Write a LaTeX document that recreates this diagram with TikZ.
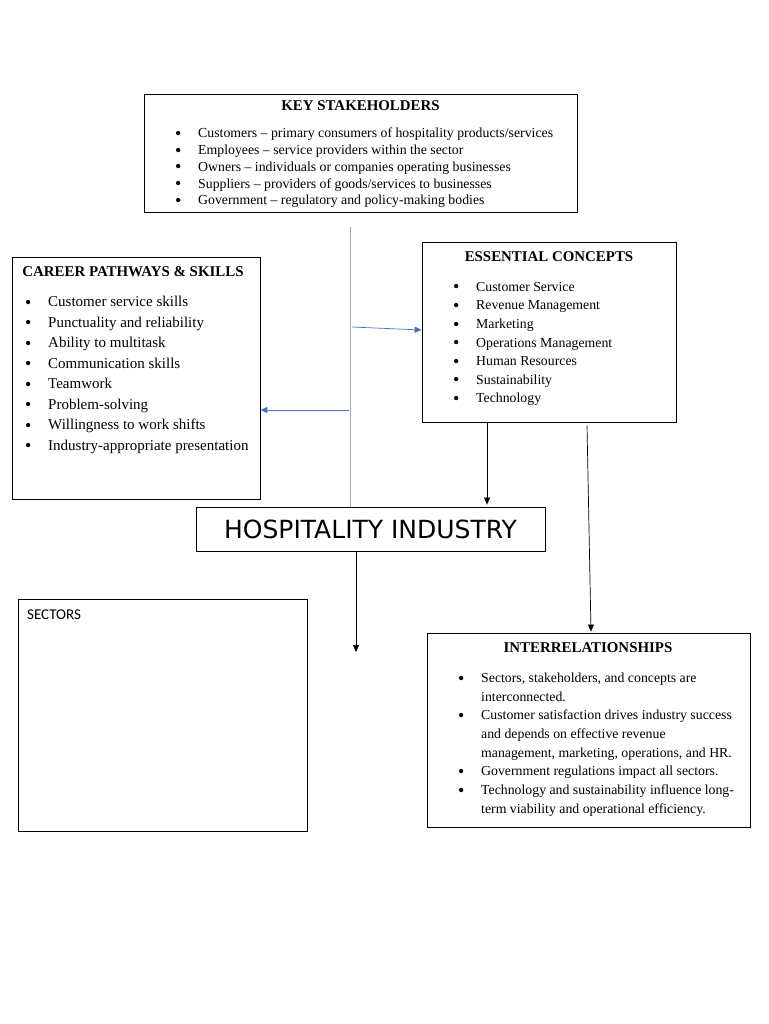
\documentclass[tikz,border=0pt]{standalone}
\usepackage{fontspec}
\setmainfont{Liberation Serif}
\newfontfamily\hospfont{DejaVu Sans}
\newfontfamily\sectfont{Carlito}
\usetikzlibrary{arrows.meta}
\definecolor{linkblue}{RGB}{68,114,196}
\newcommand{\bul}{\raisebox{-1.6pt}{\fontsize{18}{18}\selectfont\textbullet}}
\newcommand{\itemlist}[1]{\begin{tabular}[t]{@{}p{23pt}@{}l@{}}#1\end{tabular}}

\begin{document}
\begin{tikzpicture}[
        x=1pt, y=-1pt,
        box-node/.style={draw, line width=0.8pt, inner sep=0pt},
        head-node/.style={anchor=base, inner sep=0pt, font=\fontsize{14.9}{17}\selectfont\bfseries},
        list-node/.style={anchor=base west, inner sep=0pt},
        black-arrow/.style={line width=0.7pt, -{Triangle[length=7pt,width=6pt]}},
        blue-arrow/.style={line width=0.7pt, draw=linkblue, -{Triangle[length=7pt,width=6pt]}},
        trunk-line/.style={line width=0.8pt, draw=gray!70}
    ]
        \useasboundingbox (0,0) rectangle (768,1024);

        % boxes
        \node[box-node, minimum width=433pt, minimum height=118pt] (stake) at (360.5,153) {};
        \node[box-node, minimum width=248pt, minimum height=242pt] (career) at (136,378) {};
        \node[box-node, minimum width=254pt, minimum height=180pt] (concepts) at (549,332) {};
        \node[box-node, minimum width=349pt, minimum height=44pt, font=\hospfont\fontsize{25}{30}\selectfont] (hosp) at (370.5,529) {HOSPITALITY INDUSTRY};
        \node[box-node, minimum width=289pt, minimum height=232pt] (sectors) at (162.5,715) {};
        \node[box-node, minimum width=323pt, minimum height=194pt] (inter) at (588.5,730) {};

        % headings
        \node[head-node] (stake-head) at (360.5,111) {KEY STAKEHOLDERS};
        \node[head-node] (career-head) at (133,276) {CAREER PATHWAYS \& SKILLS};
        \node[head-node] (concepts-head) at (549,261) {ESSENTIAL CONCEPTS};
        \node[head-node] (inter-head) at (588,652) {INTERRELATIONSHIPS};
        \node[anchor=base west, inner sep=0pt, font=\sectfont\fontsize{15}{18}\selectfont] (sectors-head) at (27,619) {SECTORS};

        % lists
        \node[list-node, font=\fontsize{13.8}{16.7}\selectfont] (stake-list) at (175,138) {\itemlist{
            \bul & Customers – primary consumers of hospitality products/services\\
            \bul & Employees – service providers within the sector\\
            \bul & Owners – individuals or companies operating businesses\\
            \bul & Suppliers – providers of goods/services to businesses\\
            \bul & Government – regulatory and policy-making bodies}};
        \node[list-node, font=\fontsize{15}{20.5}\selectfont] (career-list) at (25,306.7) {\itemlist{
            \bul & Customer service skills\\
            \bul & Punctuality and reliability\\
            \bul & Ability to multitask\\
            \bul & Communication skills\\
            \bul & Teamwork\\
            \bul & Problem-solving\\
            \bul & Willingness to work shifts\\
            \bul & Industry-appropriate presentation}};
        \node[list-node, font=\fontsize{13.8}{18.6}\selectfont] (concepts-list) at (453,291.3) {\itemlist{
            \bul & Customer Service\\
            \bul & Revenue Management\\
            \bul & Marketing\\
            \bul & Operations Management\\
            \bul & Human Resources\\
            \bul & Sustainability\\
            \bul & Technology}};
        \node[list-node, font=\fontsize{13.8}{18.65}\selectfont] (inter-list) at (458,682.5) {\itemlist{
            \bul & Sectors, stakeholders, and concepts are\\
                 & interconnected.\\
            \bul & Customer satisfaction drives industry success\\
                 & and depends on effective revenue\\
                 & management, marketing, operations, and HR.\\
            \bul & Government regulations impact all sectors.\\
            \bul & Technology and sustainability influence long-\\
                 & term viability and operational efficiency.}};

        % connectors
        \coordinate (trunk-top) at (350,227);
        \coordinate (tap-right) at (352,327);
        \coordinate (tap-left) at (349,410);
        \coordinate (sect-tip) at (356,652);

        \draw[trunk-line] (trunk-top) -- (trunk-top |- hosp.north);
        \draw[blue-arrow] (tap-right) -- ([yshift=2pt]concepts.west);
        \draw[blue-arrow] (tap-left) -- (tap-left -| career.east);
        \draw[black-arrow] ([xshift=-62pt]concepts.south) -- ([xshift=-62pt,yshift=2pt]concepts.south |- hosp.north);
        \draw[black-arrow] ([xshift=38pt,yshift=-3pt]concepts.south) -- ([xshift=2.5pt,yshift=1pt]inter.north);
        \draw[black-arrow] (sect-tip |- hosp.south) -- (sect-tip);
    \end{tikzpicture}
\end{document}
